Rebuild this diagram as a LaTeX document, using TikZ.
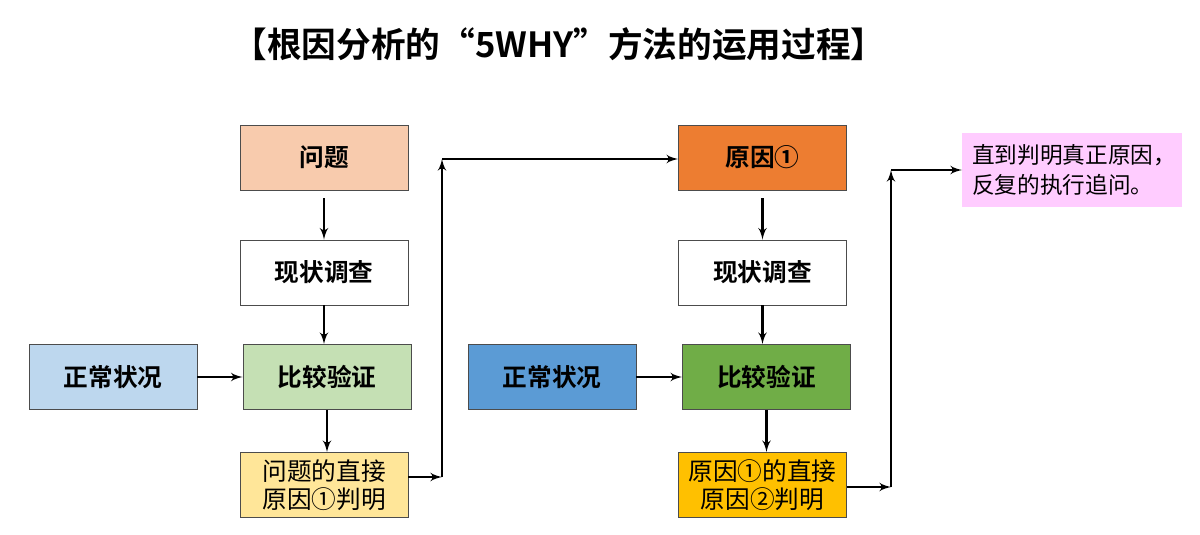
\documentclass[tikz,border=0pt]{standalone}
\usepackage{fontspec}
\setmainfont{Noto Sans CJK SC}[BoldFont={Noto Sans CJK SC Bold}]
\usepackage{tikz}
\usetikzlibrary{arrows}
\usetikzlibrary{calc}
\definecolor{peach}{HTML}{F8CBAD}
\definecolor{lgreen}{HTML}{C5E0B4}
\definecolor{lblue}{HTML}{BDD7EE}
\definecolor{lyellow}{HTML}{FFE699}
\definecolor{dorange}{HTML}{ED7D31}
\definecolor{dgreen}{HTML}{70AD47}
\definecolor{dblue}{HTML}{5B9BD5}
\definecolor{dyellow}{HTML}{FFC000}
\definecolor{lpink}{HTML}{FFCCFF}
\tikzstyle{box} = [draw=black!70,line width=0.6pt,minimum width=126pt,minimum height=48.75pt,inner sep=0pt,font=\bfseries\fontsize{18.5}{21}\selectfont]
\tikzstyle{res} = [box,align=center,font=\fontsize{18.5}{21}\selectfont]
\tikzstyle{note} = [fill=lpink,align=left,text width=150pt,inner xsep=7.5pt,minimum height=55.5pt,font=\fontsize{17}{22}\selectfont]
\tikzstyle{link} = [->,line width=2pt]

\begin{document}
\begin{tikzpicture}[>=latex',x=0.75pt,y=-0.75pt]
\useasboundingbox (0,0) rectangle (1200,535);

% Title
    \node[font=\bfseries\fontsize{26}{28}\selectfont] at (559,44) (title) {【根因分析的“5WHY”方法的运用过程】};

% First round
    \node[box,fill=peach] at (324,157.5) (prob) {问题};
    \node[box,fill=white] at (324,272.5) (survey1) {现状调查};
    \node[box,fill=lgreen] at (327,377) (cmp1) {比较验证};
    \node[box,fill=lblue] at (113,377) (normal1) {正常状况};
    \node[res,fill=lyellow] at (324,485) (res1) {问题的直接\\原因①判明};
    \draw[link,shorten <=6pt] (prob) -- (survey1);
    \draw[link] (survey1.south) -- (survey1.south |- cmp1.north);
    \draw[link] (normal1) -- (cmp1);
    \draw[link] (cmp1.south) -- (cmp1.south |- res1.north);

% Second round
    \node[box,fill=dorange] at (762.5,157.5) (cause1) {原因①};
    \node[box,fill=white] at (762.5,272.5) (survey2) {现状调查};
    \node[box,fill=dgreen] at (766.5,377) (cmp2) {比较验证};
    \node[box,fill=dblue] at (552,377) (normal2) {正常状况};
    \node[res,fill=dyellow] at (762.5,485) (res2) {原因①的直接\\原因②判明};
    \draw[link,shorten <=6pt] (cause1) -- (survey2);
    \draw[link] (survey2.south) -- (survey2.south |- cmp2.north);
    \draw[link] (normal2) -- (cmp2);
    \draw[link] (cmp2.south) -- (cmp2.south |- res2.north);

% Repeat
    \node[note,anchor=west] at (962,170) (repeat) {直到判明真正原因，\\反复的执行追问。};

% Links between rounds
    \coordinate (up1) at (442,477);
    \coordinate (top1) at (442,159);
    \draw[link] (res1.east |- up1) -- (up1);
    \draw[link] (up1) -- (top1);
    \draw[link] (top1) -- (cause1.west |- top1);
    \coordinate (up2) at (891,487);
    \coordinate (top2) at (891,170);
    \draw[link] (res2.east |- up2) -- (up2);
    \draw[link] (up2) -- (top2);
    \draw[link] (top2) -- (repeat.west |- top2);

\end{tikzpicture}
\end{document}
